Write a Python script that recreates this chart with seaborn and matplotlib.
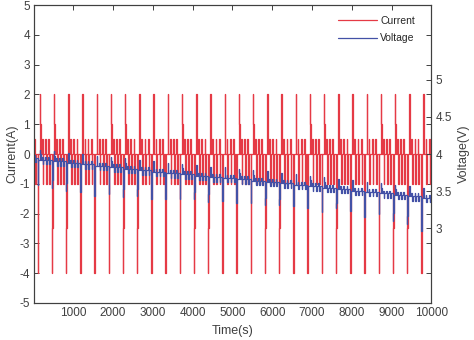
import numpy as np
import pandas as pd
import seaborn as sns
import matplotlib
matplotlib.use("Agg")
import matplotlib.pyplot as plt

# Start time (s) of each test cycle (discharge pulse onset)
cycle_start = [-252, 105, 462, 819, 1176, 1533, 1890, 2247, 2604, 2961, 3318,
               3675, 4032, 4389, 4746, 5103, 5460, 5817, 6174, 6531, 6888,
               7245, 7602, 7959, 8316, 8673, 9030, 9387, 9744]

# Resting voltage (V) of each cycle
rest_voltage = [3.95, 3.92, 3.90, 3.88, 3.86, 3.84, 3.82, 3.80, 3.78, 3.76,
                3.74, 3.73, 3.71, 3.69, 3.68, 3.66, 3.64, 3.63, 3.61, 3.59,
                3.57, 3.55, 3.53, 3.51, 3.49, 3.47, 3.45, 3.43, 3.41]

# Voltage drop (V) under the -4 A pulse of each cycle
pulse_drop = [0.33, 0.33, 0.36, 0.38, 0.37, 0.40, 0.36, 0.38, 0.35, 0.36,
              0.34, 0.33, 0.32, 0.33, 0.31, 0.32, 0.30, 0.31, 0.30, 0.29,
              0.29, 0.33, 0.26, 0.28, 0.33, 0.28, 0.35, 0.37, 0.45]

# One cycle of the current profile: step offsets (s) and currents (A)
step_offset = [0, 10, 20, 58, 68, 78, 110, 130, 150, 190, 210, 230, 270, 290, 310]
step_current = [-4, -2.5, 0, 2, 1, 0, 0.5, -1, 0, 0.5, -1, 0, 0.5, -1, 0]
# Voltage shift (V) at each step; the first two scale with pulse_drop
step_dv = [1.0, 0.7, 0.0, 0.14, 0.08, 0.0, 0.04, -0.06, 0.0, 0.04, -0.06, 0.0,
           0.04, -0.06, 0.0]

t_end_all = 10000

rows_i, rows_v = [], []
for k, t0 in enumerate(cycle_start):
    t_next = cycle_start[k + 1] if k + 1 < len(cycle_start) else t_end_all
    for j, off in enumerate(step_offset):
        a = t0 + off
        b = t0 + step_offset[j + 1] if j + 1 < len(step_offset) else t_next
        if j < 2:
            v = rest_voltage[k] - pulse_drop[k] * step_dv[j]
        else:
            v = rest_voltage[k] + step_dv[j]
        for t in (a, b):
            rows_i.append((t, step_current[j]))
            rows_v.append((t, v))

cur = pd.DataFrame(rows_i, columns=["Time(s)", "Current(A)"])
vol = pd.DataFrame(rows_v, columns=["Time(s)", "Voltage(V)"])

sns.set_style("white")
plt.rcParams["font.family"] = ["Liberation Sans", "DejaVu Sans"]
plt.rcParams["axes.unicode_minus"] = False
grey = "#404040"

fig = plt.figure(figsize=(4.74, 3.40), dpi=100)
ax = fig.add_axes([0.072, 0.109, 0.838, 0.876])
ax2 = ax.twinx()

red = "#e53a45"
blue = "#4351a6"

sns.lineplot(data=cur, x="Time(s)", y="Current(A)", ax=ax, sort=False,
             estimator=None, color=red, lw=0.9, label="Current", legend=False)
sns.lineplot(data=vol, x="Time(s)", y="Voltage(V)", ax=ax2, sort=False,
             estimator=None, color=blue, lw=0.9, label="Voltage", legend=False)

ax.set_xlim(20, 10000)
ax.set_ylim(-5, 5)
ax2.set_ylim(2, 6)
ax.set_xticks(np.arange(1000, 10001, 1000))
ax.set_yticks(np.arange(-5, 6, 1))
ax2.set_yticks([3, 3.5, 4, 4.5, 5])
ax2.set_yticklabels(["3", "3.5", "4", "4.5", "5"])

for a in (ax, ax2):
    for s in a.spines.values():
        s.set_color(grey)
        s.set_linewidth(0.8)
ax.tick_params(axis="both", direction="in", length=3.5, width=0.7, colors=grey,
               labelsize=8.5, top=True, right=True, labelright=False, pad=3)
ax2.tick_params(axis="y", direction="in", length=3.5, width=0.7, colors=grey,
                labelsize=8.5, pad=3)

ax.set_xlabel("Time(s)", fontsize=9, color=grey, labelpad=4)
ax.set_ylabel("Current(A)", fontsize=9, color=grey, labelpad=1)
ax2.set_ylabel("Voltage(V)", fontsize=9, color=grey, labelpad=4)

h1, l1 = ax.get_legend_handles_labels()
h2, l2 = ax2.get_legend_handles_labels()
ax2.legend(h1 + h2, l1 + l2, loc="upper right", frameon=False, fontsize=7.5,
           handlelength=3.8, handletextpad=0.3, labelspacing=0.75,
           borderaxespad=0.6, bbox_to_anchor=(0.985, 1.0))

fig.savefig("out.png", dpi=100)
